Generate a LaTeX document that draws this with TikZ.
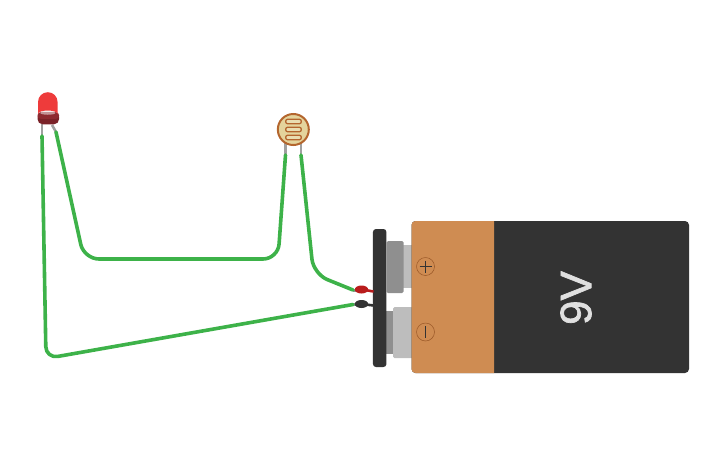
\documentclass[tikz,border=0pt]{standalone}
\usepackage{fontspec}
\newfontfamily\voltfont[FakeBold=1.6]{Liberation Sans}
\usetikzlibrary{calc,shapes.geometric}

\definecolor{wiregreen}{HTML}{3DB249}
\definecolor{legrey}{HTML}{A0A0A0}
\definecolor{ledred}{HTML}{EE3B3B}
\definecolor{ledbase}{HTML}{8E2A30}
\definecolor{ledbasedark}{HTML}{7A2228}
\definecolor{ldrbrown}{HTML}{B4662E}
\definecolor{ldrface}{HTML}{E4D49C}
\definecolor{batdark}{HTML}{333333}
\definecolor{batorange}{HTML}{CF8C52}
\definecolor{capgrey}{HTML}{8F8F8F}
\definecolor{caplight}{HTML}{BDBDBD}
\definecolor{leadred}{HTML}{B91C1C}

\tikzset{
    part/.style={rectangle, inner sep=0pt, outer sep=0pt, draw=none},
    wire/.style={draw=wiregreen, line width=3.6pt, line join=round, line cap=round},
    pinleg/.style={draw=legrey, line width=2.6pt},
    pole/.style={circle, inner sep=0pt, outer sep=0pt, minimum size=18pt, draw=ldrbrown!85!black, line width=0.5pt},
    lead/.style={ellipse, inner sep=0pt, outer sep=0pt, minimum width=13.5pt, minimum height=8pt},
    ldrrow/.style={part, draw=ldrbrown, fill=ldrface!80!white, line width=1.3pt, rounded corners=2pt, minimum width=15.5pt, minimum height=4.6pt},
}

\begin{document}
\begin{tikzpicture}[x=1pt, y=-1pt]

    \useasboundingbox (0,0) rectangle (725,453);

    % led
    \coordinate (ledA) at (42,124);
    \coordinate (ledAend) at (42,136);
    \coordinate (ledK) at (52,125);
    \coordinate (ledKbend) at (56,132);
    \draw [pinleg] (ledA) -- (ledAend);
    \draw [pinleg] (ledK) -- (ledKbend);
    \node (ledbase) [part, fill=ledbasedark, rounded corners=5pt, minimum width=21.5pt, minimum height=12.5pt] at (48.3,118) {};
    \node (ledring) [part, fill=ledbase, rounded corners=3pt, minimum width=21.5pt, minimum height=6.5pt] at (48.3,115.5) {};
    \fill [ledred] (38,114) -- (38,102) arc[start angle=180, end angle=0, x radius=9.8pt, y radius=9.8pt] -- (57.6,114) arc[start angle=0, end angle=180, x radius=9.8pt, y radius=3.5pt] -- cycle;
    \node (ledglow) [part, ellipse, fill=white, opacity=0.5, minimum width=15pt, minimum height=3.5pt] at (47.8,113) {};

    % ldr
    \coordinate (ldrL) at (285.5,143);
    \coordinate (ldrLend) at (285.5,155);
    \coordinate (ldrR) at (301,143);
    \coordinate (ldrRend) at (301,155);
    \draw [pinleg] (ldrL) -- (ldrLend);
    \draw [pinleg] (ldrR) -- (ldrRend);
    \node (ldr) [part, circle, fill=ldrface, draw=ldrbrown, line width=2pt, minimum size=31pt] at (293.3,129.5) {};
    \node (rowA) [ldrrow] at (293.5,121.5) {};
    \node (rowB) [ldrrow] at (293.5,129.5) {};
    \node (rowC) [ldrrow] at (293.5,137.5) {};

    % battery
    \node (capA) [part, fill=caplight, minimum width=10pt, minimum height=43pt] at (407,266.5) {};
    \node (capB) [part, fill=capgrey, rounded corners=1.5pt, minimum width=17pt, minimum height=52pt] at (395,267) {};
    \node (capC) [part, fill=capgrey, minimum width=8pt, minimum height=43pt] at (390,332.5) {};
    \node (capD) [part, fill=caplight, rounded corners=1.5pt, minimum width=20pt, minimum height=51pt] at (403,332.5) {};
    \node (batbody) [part, fill=batdark, rounded corners=4pt, minimum width=277.5pt, minimum height=152pt] at (550.25,297) {};
    \fill [batorange, rounded corners=4pt] (494,221) -- (411.5,221) -- (411.5,373) -- (494,373);
    \node (bartop) [part, fill=batdark, rounded corners=3pt, minimum width=13.5pt, minimum height=138pt] at (379.7,298) {};
    \node (plus) [pole] at (425.5,266.5) {};
    \node (minus) [pole] at (425.5,332) {};
    \draw [batdark, line width=1.7pt] (plus.west) ++(3,0) -- ++(12,0) (plus.north) ++(0,3) -- ++(0,12);
    \draw [batdark, line width=1.7pt] (minus.north) ++(0,3) -- ++(0,12);
    \node (volt) [part, rotate=90, text=white!88!black, font=\voltfont\fontsize{44}{44}\selectfont] at (576,298) {9V};

    % leads
    \coordinate (redtip) at (353,290);
    \coordinate (blacktip) at (353,304.5);
    \draw [capgrey, line width=3pt] (redtip) -- (357,290);
    \draw [capgrey, line width=3pt] (blacktip) -- (357,304.5);
    \draw [leadred, line width=2.6pt] (362,289.5) -- (373.5,291.5);
    \draw [batdark, line width=2.6pt] (362,304) -- (373.5,305.5);
    \node (leadR) [part, lead, fill=leadred] at (361.5,289.5) {};
    \node (leadB) [part, lead, fill=batdark] at (361.5,304) {};

    % wires
    \draw [wire, rounded corners=15pt] (ledKbend) -- (84,259) -- (278,259) -- (ldrLend);
    \draw [wire, rounded corners=15pt] (ldrRend) -- (313.5,274) -- (redtip);
    \draw [wire, rounded corners=12pt] (ledAend) -- (46,358.5) -- (blacktip);

\end{tikzpicture}
\end{document}
